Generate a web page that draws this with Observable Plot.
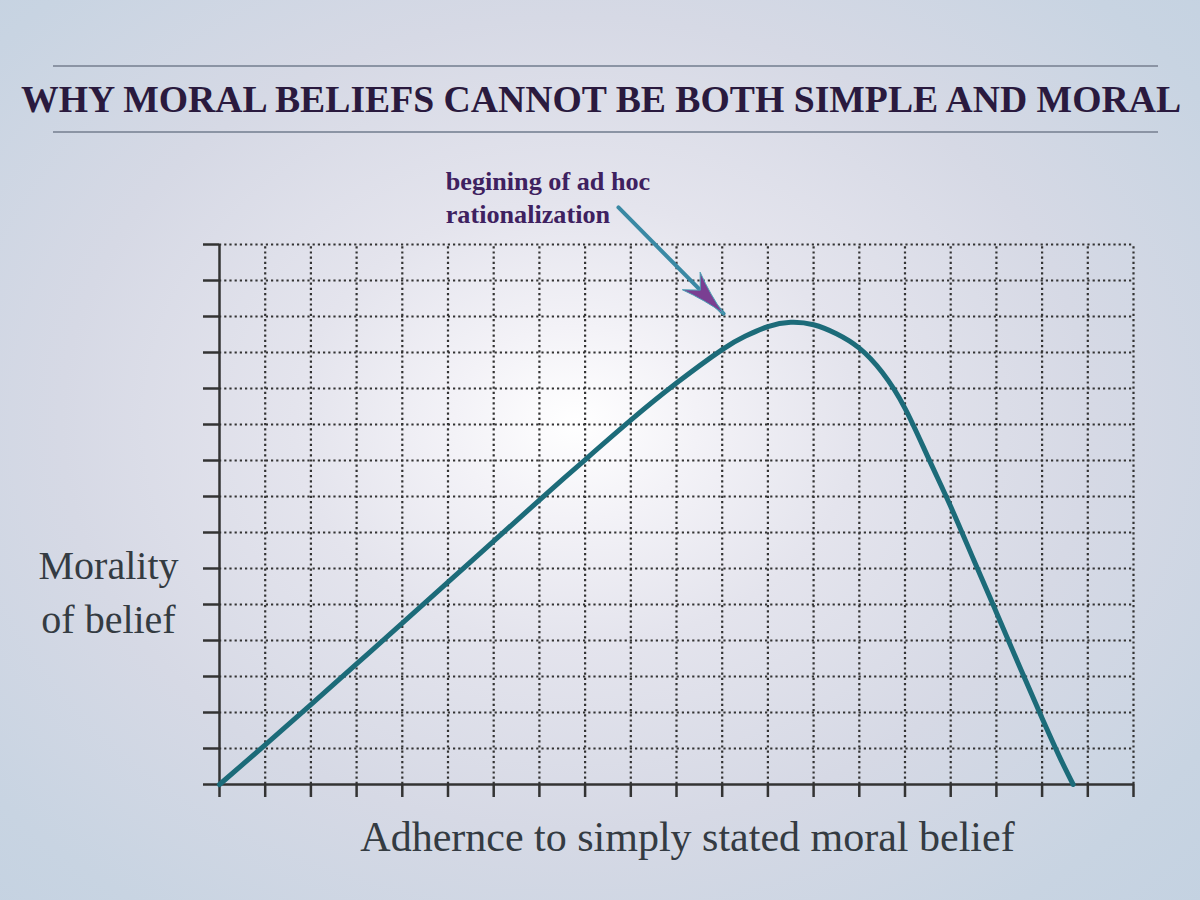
<!DOCTYPE html>
<html>
<head>
<meta charset="utf-8">
<script src="https://cdn.jsdelivr.net/npm/d3@7"></script>
<script src="https://cdn.jsdelivr.net/npm/@observablehq/plot@0.6"></script>
<style>
  html, body { margin: 0; padding: 0; }
  body {
    width: 1200px; height: 900px; position: relative; overflow: hidden;
    background: radial-gradient(ellipse 78% 82% at 48% 47%, #ffffff 0%, #f3f2f7 13%, #e4e4ed 30%, #d6d9e5 55%, #c8d4e2 80%, #c2d1e1 100%);
    font-family: "Liberation Serif", "Times New Roman", serif;
  }
  #title {
    position: absolute; left: 53px; top: 65px; width: 1105px; height: 64px;
    border-top: 2px solid #8b94a4; border-bottom: 2px solid #8b94a4;
    text-align: center; white-space: nowrap;
  }
  #title span {
    display: inline-block; font-size: 37.7px; line-height: 64px; font-weight: bold;
    color: #2a1a3e; margin-left: -64.5px; margin-right: -55.5px;
  }
  #chart { position: absolute; left: 0; top: 0; }
</style>
</head>
<body>
<div id="title"><span>WHY MORAL BELIEFS CANNOT BE BOTH SIMPLE AND MORAL</span></div>
<div id="chart"></div>
<script>
// ---- data ----
const curveX = [0, 1, 2, 3, 4, 5, 6, 7, 8, 9, 10, 11, 11.5, 12, 12.5, 13, 13.5, 14, 14.5, 15, 15.5, 16, 16.5, 17, 17.5, 18, 18.4, 18.68];
const curveY = [0, 1.1, 2.22, 3.35, 4.48, 5.62, 6.76, 7.9, 9.02, 10.12, 11.15, 12.08, 12.45, 12.72, 12.84, 12.77, 12.52, 12.12, 11.45, 10.45, 9.1, 7.72, 6.25, 4.78, 3.3, 1.84, 0.72, 0];
const xTicks = d3.range(0, 21);
const yTicks = d3.range(0, 16);
const xGrid = d3.range(1, 21);
const yGrid = d3.range(1, 16);
const xLabel = "Adhernce to simply stated moral belief";
const yLabel = "Morality\nof belief";
const noteText = "begining of ad hoc\nrationalization";
const note = [{x: 4.95, y: 15.61, text: noteText}];
const arrow = [{x1: 8.73, y1: 16.03, x2: 11.03, y2: 13.08}];

const points = curveX.map((x, i) => ({x, y: curveY[i]}));

// arrow direction in pixels (for the arrowhead)
const pxX = 914 / 20, pxY = 540 / 15;
const adx = (arrow[0].x2 - arrow[0].x1) * pxX;
const ady = -(arrow[0].y2 - arrow[0].y1) * pxY;
const ang = Math.atan2(ady, adx);
const arrowHead = {
  draw(ctx) {
    const ux = Math.cos(ang), uy = Math.sin(ang);
    const vx = -uy, vy = ux;
    const P = (a, b) => [a * ux + b * vx, a * uy + b * vy];
    const tip = P(0, 0), b1 = P(-46, 12.5), n = P(-33, 0), b2 = P(-46, -12.5);
    const c1 = P(-22, 3.5), c2 = P(-22, -3.5);
    ctx.moveTo(...tip);
    ctx.quadraticCurveTo(...c1, ...b1);
    ctx.lineTo(...n);
    ctx.lineTo(...b2);
    ctx.quadraticCurveTo(...c2, ...tip);
    ctx.closePath();
  }
};

const ink = "#333333";
const chart = Plot.plot({
  width: 1200,
  height: 900,
  marginLeft: 219,
  marginRight: 67,
  marginTop: 244,
  marginBottom: 116,
  x: {domain: [0, 20]},
  y: {domain: [0, 15]},
  style: {background: "transparent", overflow: "visible", fontFamily: "'Liberation Serif', serif"},
  marks: [
    Plot.ruleY(yGrid, {x1: 0, x2: 20, stroke: ink, strokeWidth: 2.2, strokeDasharray: "2.2 3"}),
    Plot.ruleX(xGrid, {y1: 0, y2: 15, stroke: ink, strokeWidth: 2.2, strokeDasharray: "2.2 3"}),
    Plot.axisY({ticks: yTicks, tickSize: 16, tickFormat: () => "", stroke: ink, strokeWidth: 2.5}),
    Plot.axisX({ticks: xTicks, tickSize: 13, tickFormat: () => "", stroke: ink, strokeWidth: 2.5}),
    Plot.ruleX([0], {y1: 0, y2: 15, stroke: ink, strokeWidth: 2.5}),
    Plot.ruleY([0], {x1: 0, x2: 20, stroke: ink, strokeWidth: 2.5}),
    Plot.line(points, {x: "x", y: "y", curve: "natural", stroke: "#1c6b79", strokeWidth: 5}),
    Plot.arrow(arrow, {x1: "x1", y1: "y1", x2: "x2", y2: "y2", stroke: "#3a89a4", strokeWidth: 4, headLength: 0}),
    Plot.dot(arrow, {x: "x2", y: "y2", symbol: arrowHead, fill: "#7a3f92", stroke: "#4aa0b4", strokeWidth: 1}),
    Plot.text(note, {x: "x", y: "y", text: "text", textAnchor: "start", lineAnchor: "bottom", lineHeight: 1.25, fontSize: 26.2, fontWeight: "bold", fill: "#3e2160"}),
    Plot.text([xLabel], {frameAnchor: "bottom", dx: 11, dy: 66, lineAnchor: "bottom", fontSize: 42, fill: "#343b42"}),
    Plot.text([yLabel], {frameAnchor: "left", dx: -111, dy: 118, textAnchor: "middle", lineAnchor: "bottom", lineHeight: 1.33, fontSize: 40, fill: "#343b42"})
  ]
});
document.getElementById("chart").append(chart);
</script>
</body>
</html>
